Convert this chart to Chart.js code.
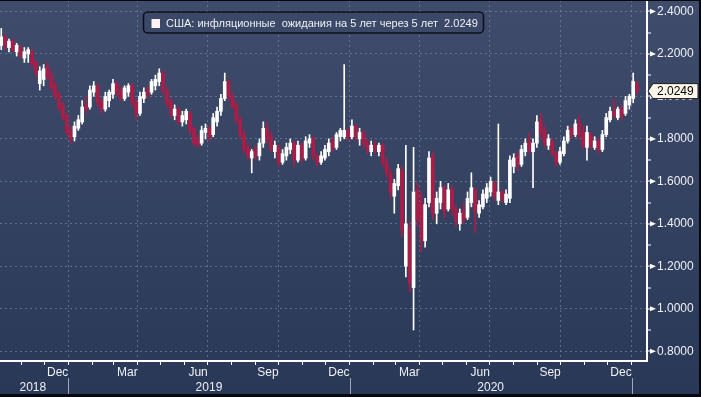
<!DOCTYPE html>
<html lang="ru">
<head>
    <meta charset="UTF-8">
    <title>США: инфляционные ожидания на 5 лет через 5 лет</title>
    <script src="https://cdn.jsdelivr.net/npm/chart.js"></script>
    <style>
        html, body { margin: 0; padding: 0; background: #2b3858; }
        #chart { display: block; }
    </style>
</head>
<body>
    <canvas id="chart" width="701" height="397"></canvas>

    <script>
        // One candle every 5 calendar days, x = days since 2018-10-01
        const firstDay = 5;
        const dayStep = 5;

        const open = [
            2.24,2.28,2.23,2.26,2.21,2.23,2.18,2.20,2.21,2.16,
            2.06,2.08,2.14,2.10,2.05,2.01,1.96,1.91,1.84,1.81,
            1.85,1.88,1.96,1.95,2.02,2.05,1.98,1.94,1.98,2.01,
            2.06,2.03,1.99,2.02,2.05,1.97,1.92,1.99,2.03,2.02,
            2.05,2.07,2.11,2.03,1.98,1.91,1.94,1.88,1.89,1.92,
            1.85,1.80,1.78,1.83,1.85,1.82,1.88,1.93,1.99,2.07,
            2.00,1.96,1.89,1.82,1.76,1.71,1.75,1.72,1.78,1.85,
            1.81,1.74,1.76,1.69,1.72,1.75,1.78,1.70,1.77,1.71,
            1.78,1.80,1.72,1.69,1.71,1.74,1.79,1.76,1.81,1.81,
            1.84,1.81,1.86,1.80,1.83,1.78,1.74,1.77,1.74,1.77,
            1.69,1.64,1.53,1.58,1.65,1.20,1.38,1.10,1.56,1.50,
            1.32,1.50,1.72,1.45,1.50,1.57,1.47,1.56,1.47,1.40,
            1.46,1.43,1.50,1.56,1.45,1.48,1.52,1.55,1.59,1.51,
            1.55,1.50,1.52,1.67,1.72,1.68,1.74,1.79,1.74,1.78,
            1.89,1.84,1.77,1.79,1.73,1.69,1.73,1.79,1.85,1.82,
            1.88,1.83,1.76,1.82,1.76,1.79,1.75,1.82,1.89,1.93,
            1.90,1.94,1.92,1.96,1.99,2.06
        ];
        const high = [
            2.32,2.29,2.27,2.27,2.25,2.24,2.23,2.23,2.22,2.17,
            2.14,2.15,2.16,2.12,2.07,2.02,1.97,1.92,1.86,1.88,
            1.91,1.98,2.00,2.05,2.07,2.06,1.99,2.02,2.03,2.08,
            2.07,2.04,2.05,2.06,2.06,1.99,2.02,2.04,2.05,2.08,
            2.10,2.13,2.12,2.04,1.99,1.96,1.95,1.93,1.94,1.93,
            1.86,1.82,1.86,1.87,1.86,1.92,1.95,2.01,2.11,2.08,
            2.02,1.97,1.91,1.84,1.78,1.75,1.77,1.80,1.88,1.88,
            1.83,1.79,1.77,1.75,1.78,1.80,1.79,1.79,1.78,1.81,
            1.82,1.81,1.73,1.74,1.77,1.80,1.81,1.83,1.85,2.15,
            1.85,1.89,1.87,1.85,1.84,1.80,1.79,1.79,1.78,1.78,
            1.71,1.66,1.61,1.68,1.67,1.77,1.41,1.76,1.59,1.55,
            1.52,1.74,1.74,1.55,1.60,1.58,1.59,1.58,1.49,1.47,
            1.50,1.55,1.64,1.57,1.51,1.56,1.59,1.62,1.60,1.87,
            1.56,1.56,1.72,1.73,1.74,1.77,1.80,1.83,1.80,1.91,
            1.92,1.86,1.82,1.80,1.74,1.76,1.81,1.86,1.86,1.89,
            1.91,1.86,1.86,1.83,1.81,1.80,1.84,1.92,1.95,1.99,
            1.95,1.96,2.00,2.01,2.11,2.07
        ];
        const low = [
            2.22,2.22,2.21,2.21,2.19,2.18,2.16,2.16,2.14,2.09,
            2.03,2.05,2.08,2.03,1.99,1.93,1.89,1.82,1.78,1.79,
            1.84,1.87,1.92,1.94,2.00,1.95,1.92,1.93,1.95,1.99,
            2.00,1.98,1.98,2.00,1.95,1.89,1.91,1.97,1.99,2.01,
            2.03,2.05,2.01,1.95,1.90,1.89,1.87,1.86,1.87,1.82,
            1.77,1.76,1.77,1.80,1.79,1.81,1.86,1.91,1.98,1.98,
            1.94,1.87,1.80,1.73,1.70,1.64,1.70,1.70,1.76,1.78,
            1.74,1.71,1.67,1.68,1.70,1.73,1.67,1.69,1.69,1.70,
            1.76,1.70,1.67,1.68,1.70,1.72,1.74,1.75,1.79,1.80,
            1.79,1.80,1.79,1.77,1.76,1.73,1.72,1.73,1.72,1.67,
            1.62,1.52,1.45,1.56,1.34,1.15,1.08,0.90,1.39,1.27,
            1.29,1.48,1.42,1.40,1.47,1.43,1.46,1.44,1.39,1.37,
            1.40,1.42,1.48,1.36,1.43,1.47,1.50,1.53,1.51,1.49,
            1.50,1.49,1.50,1.64,1.65,1.67,1.72,1.73,1.57,1.76,
            1.80,1.76,1.75,1.72,1.67,1.68,1.72,1.78,1.80,1.81,
            1.80,1.75,1.70,1.75,1.75,1.73,1.74,1.81,1.88,1.90,
            1.89,1.89,1.91,1.94,1.97,2.01
        ];
        const close = [
            2.28,2.24,2.26,2.22,2.24,2.19,2.21,2.22,2.15,2.11,
            2.12,2.13,2.09,2.04,2.00,1.95,1.90,1.83,1.80,1.86,
            1.89,1.95,1.94,2.03,2.05,1.97,1.94,2.00,2.02,2.06,
            2.02,1.99,2.04,2.05,1.97,1.92,2.00,2.02,2.01,2.07,
            2.08,2.11,2.03,1.97,1.92,1.94,1.88,1.91,1.93,1.84,
            1.78,1.77,1.84,1.85,1.81,1.90,1.93,1.99,2.07,2.00,
            1.95,1.89,1.82,1.75,1.72,1.74,1.72,1.78,1.85,1.80,
            1.75,1.77,1.69,1.73,1.76,1.78,1.70,1.77,1.71,1.79,
            1.80,1.72,1.69,1.72,1.75,1.78,1.76,1.82,1.84,1.84,
            1.81,1.86,1.81,1.83,1.78,1.75,1.77,1.75,1.77,1.69,
            1.64,1.55,1.59,1.66,1.37,1.40,1.12,1.55,1.42,1.32,
            1.49,1.71,1.45,1.52,1.57,1.46,1.56,1.47,1.41,1.45,
            1.42,1.52,1.57,1.46,1.49,1.54,1.57,1.60,1.53,1.55,
            1.52,1.54,1.70,1.71,1.68,1.75,1.78,1.75,1.78,1.88,
            1.83,1.78,1.80,1.73,1.69,1.74,1.79,1.84,1.82,1.87,
            1.82,1.77,1.83,1.77,1.79,1.75,1.82,1.90,1.93,1.91,
            1.94,1.91,1.98,2.00,2.07,2.0249
        ];

        // axis ticks (x in days since 2018-10-01)
        const monthStarts = [31, 61, 92, 123, 151, 182, 212, 243, 273, 304, 335, 365, 396, 426,
                             457, 488, 517, 548, 578, 609, 639, 670, 701, 731, 762, 792, 823];
        const quarterStarts = [92, 182, 273, 365, 457, 548, 639, 731, 823];
        const quarterLabels = ['Dec', 'Mar', 'Jun', 'Sep', 'Dec', 'Mar', 'Jun', 'Sep', 'Dec'];
        const yearSpans = [[0, 92], [92, 457], [457, 823]];
        const yearLabels = ['2018', '2019', '2020'];
        const yearBreaks = [92, 457, 823];
        const yTicks = [0.8, 1.0, 1.2, 1.4, 1.6, 1.8, 2.0, 2.2, 2.4];
        const yMinorTicks = [0.9, 1.1, 1.3, 1.5, 1.7, 1.9, 2.1, 2.3];

        const seriesName = 'США: инфляционные  ожидания на 5 лет через 5 лет';

        const UP = '#ffffff';
        const DOWN = '#ad1c47';
        const GRID = 'rgba(115,135,170,0.65)';
        const TEXT = '#eef0f4';

        const days = close.map((_, i) => firstDay + i * dayStep);
        const candleColor = ctx => close[ctx.dataIndex] >= open[ctx.dataIndex] ? UP : DOWN;
        const lastValue = close[close.length - 1];

        Chart.defaults.font.family = '"Liberation Sans", Arial, sans-serif';
        Chart.defaults.font.size = 12;

        // background, axis markers, year row, legend box and last-value tag
        const decorations = {
            id: 'decorations',
            beforeDraw(chart) {
                const { ctx, width, height } = chart;
                const g = ctx.createLinearGradient(0, 0, 0, height);
                g.addColorStop(0, '#3f4c6c');
                g.addColorStop(1, '#2a3858');
                ctx.save();
                ctx.fillStyle = g;
                ctx.fillRect(0, 0, width, height);
                ctx.restore();
            },
            afterDraw(chart) {
                const { ctx, chartArea: a, scales: { x, y } } = chart;
                ctx.save();

                // right axis: arrow markers at major ticks, short marks at minor ones
                ctx.fillStyle = '#ffffff';
                ctx.strokeStyle = '#ffffff';
                ctx.lineWidth = 1;
                yTicks.forEach(v => {
                    const py = y.getPixelForValue(v);
                    ctx.fillRect(a.right, Math.round(py) - 0.5, 4, 1);
                    ctx.beginPath();
                    ctx.moveTo(a.right + 3, py - 2.6);
                    ctx.lineTo(a.right + 9, py);
                    ctx.lineTo(a.right + 3, py + 2.6);
                    ctx.closePath();
                    ctx.fill();
                });
                yMinorTicks.forEach(v => {
                    const py = y.getPixelForValue(v);
                    ctx.fillRect(a.right, Math.round(py) - 0.5, 4, 1);
                });

                // year row
                ctx.fillStyle = '#9ea5b6';
                yearBreaks.forEach(d => {
                    const px = Math.round(x.getPixelForValue(d)) + 0.5;
                    ctx.fillRect(px - 0.5, 378, 1, 16);
                });
                ctx.fillStyle = TEXT;
                ctx.font = '12px "Liberation Sans", Arial, sans-serif';
                ctx.textAlign = 'center';
                ctx.textBaseline = 'middle';
                yearSpans.forEach((s, i) => {
                    const cx = (x.getPixelForValue(s[0]) + x.getPixelForValue(s[1])) / 2;
                    ctx.fillText(yearLabels[i], cx, 388);
                });

                // legend box
                const bx = 143.5, by = 12, bw = 340, bh = 21;
                ctx.beginPath();
                ctx.roundRect(bx, by, bw, bh, 4);
                ctx.fillStyle = '#3c4868';
                ctx.fill();
                ctx.lineWidth = 1.5;
                ctx.strokeStyle = '#0c0f19';
                ctx.stroke();
                ctx.fillStyle = '#fff1f1';
                ctx.fillRect(151.5, 19, 8.5, 9);
                ctx.fillStyle = TEXT;
                ctx.font = '11px "Liberation Sans", Arial, sans-serif';
                ctx.textAlign = 'left';
                ctx.fillText(seriesName + '  ' + lastValue.toFixed(4), 166, 23.5);

                // last value tag
                const ty = y.getPixelForValue(lastValue);
                const tx = a.right + 1;
                ctx.beginPath();
                ctx.moveTo(tx, ty);
                ctx.lineTo(tx + 5, ty - 7.5);
                ctx.lineTo(698, ty - 7.5);
                ctx.lineTo(698, ty + 7.5);
                ctx.lineTo(tx + 5, ty + 7.5);
                ctx.closePath();
                ctx.fillStyle = '#fcf7ea';
                ctx.fill();
                ctx.lineWidth = 1;
                ctx.strokeStyle = '#1a1a1a';
                ctx.stroke();
                ctx.fillStyle = '#000000';
                ctx.font = '12px "Liberation Sans", Arial, sans-serif';
                ctx.fillText(lastValue.toFixed(4), 657, ty + 0.5);

                // dark frame
                ctx.fillStyle = '#06080e';
                ctx.fillRect(0, 0, chart.width, 1);
                ctx.fillRect(0, chart.height - 3, chart.width, 3);
                ctx.fillRect(chart.width - 2, 0, 2, chart.height);

                ctx.restore();
            }
        };

        new Chart(document.getElementById('chart'), {
            type: 'bar',
            data: {
                datasets: [
                    {
                        label: 'body',
                        data: days.map((d, i) => ({ x: d, y: [open[i], close[i]] })),
                        backgroundColor: candleColor,
                        barThickness: 3,
                        minBarLength: 1,
                        borderWidth: 0,
                        grouped: false
                    },
                    {
                        label: 'wick',
                        data: days.map((d, i) => ({ x: d, y: [low[i], high[i]] })),
                        backgroundColor: candleColor,
                        barThickness: 1,
                        borderWidth: 0,
                        grouped: false
                    }
                ]
            },
            options: {
                responsive: false,
                devicePixelRatio: 1,
                animation: false,
                events: [],
                layout: { padding: 0, autoPadding: false },
                plugins: {
                    legend: { display: false },
                    tooltip: { enabled: false }
                },
                scales: {
                    x: {
                        type: 'linear',
                        min: 3.37,
                        max: 842.9,
                        offset: false,
                        afterBuildTicks: s => { s.ticks = monthStarts.map(v => ({ value: v })); },
                        afterFit: s => { s.height = 36; s.paddingLeft = 0; s.paddingRight = 0; },
                        grid: {
                            offset: false,
                            color: ctx => ctx.tick && quarterStarts.includes(ctx.tick.value) ? GRID : 'rgba(0,0,0,0)',
                            lineWidth: 1,
                            drawTicks: true,
                            tickLength: 4,
                            tickColor: '#ffffff',
                            tickBorderDash: []
                        },
                        border: { display: true, color: '#ffffff', width: 2, dash: [2, 3] },
                        ticks: {
                            autoSkip: false,
                            maxRotation: 0,
                            minRotation: 0,
                            align: 'end',
                            padding: 0,
                            color: TEXT,
                            font: { size: 12 },
                            callback: v => {
                                const k = quarterStarts.indexOf(v);
                                return k >= 0 ? quarterLabels[k] : '';
                            }
                        }
                    },
                    y: {
                        type: 'linear',
                        position: 'right',
                        min: 0.754,
                        max: 2.454,
                        afterBuildTicks: s => { s.ticks = yTicks.map(v => ({ value: v })); },
                        afterFit: s => { s.width = 54; s.paddingTop = 0; s.paddingBottom = 0; },
                        grid: { color: GRID, lineWidth: 1, drawTicks: false },
                        border: { display: true, color: '#ffffff', width: 2, dash: [2, 3] },
                        ticks: {
                            padding: 10,
                            color: TEXT,
                            font: { size: 12 },
                            callback: v => Number(v).toFixed(4)
                        }
                    }
                }
            },
            plugins: [decorations]
        });
    </script>
</body>
</html>
